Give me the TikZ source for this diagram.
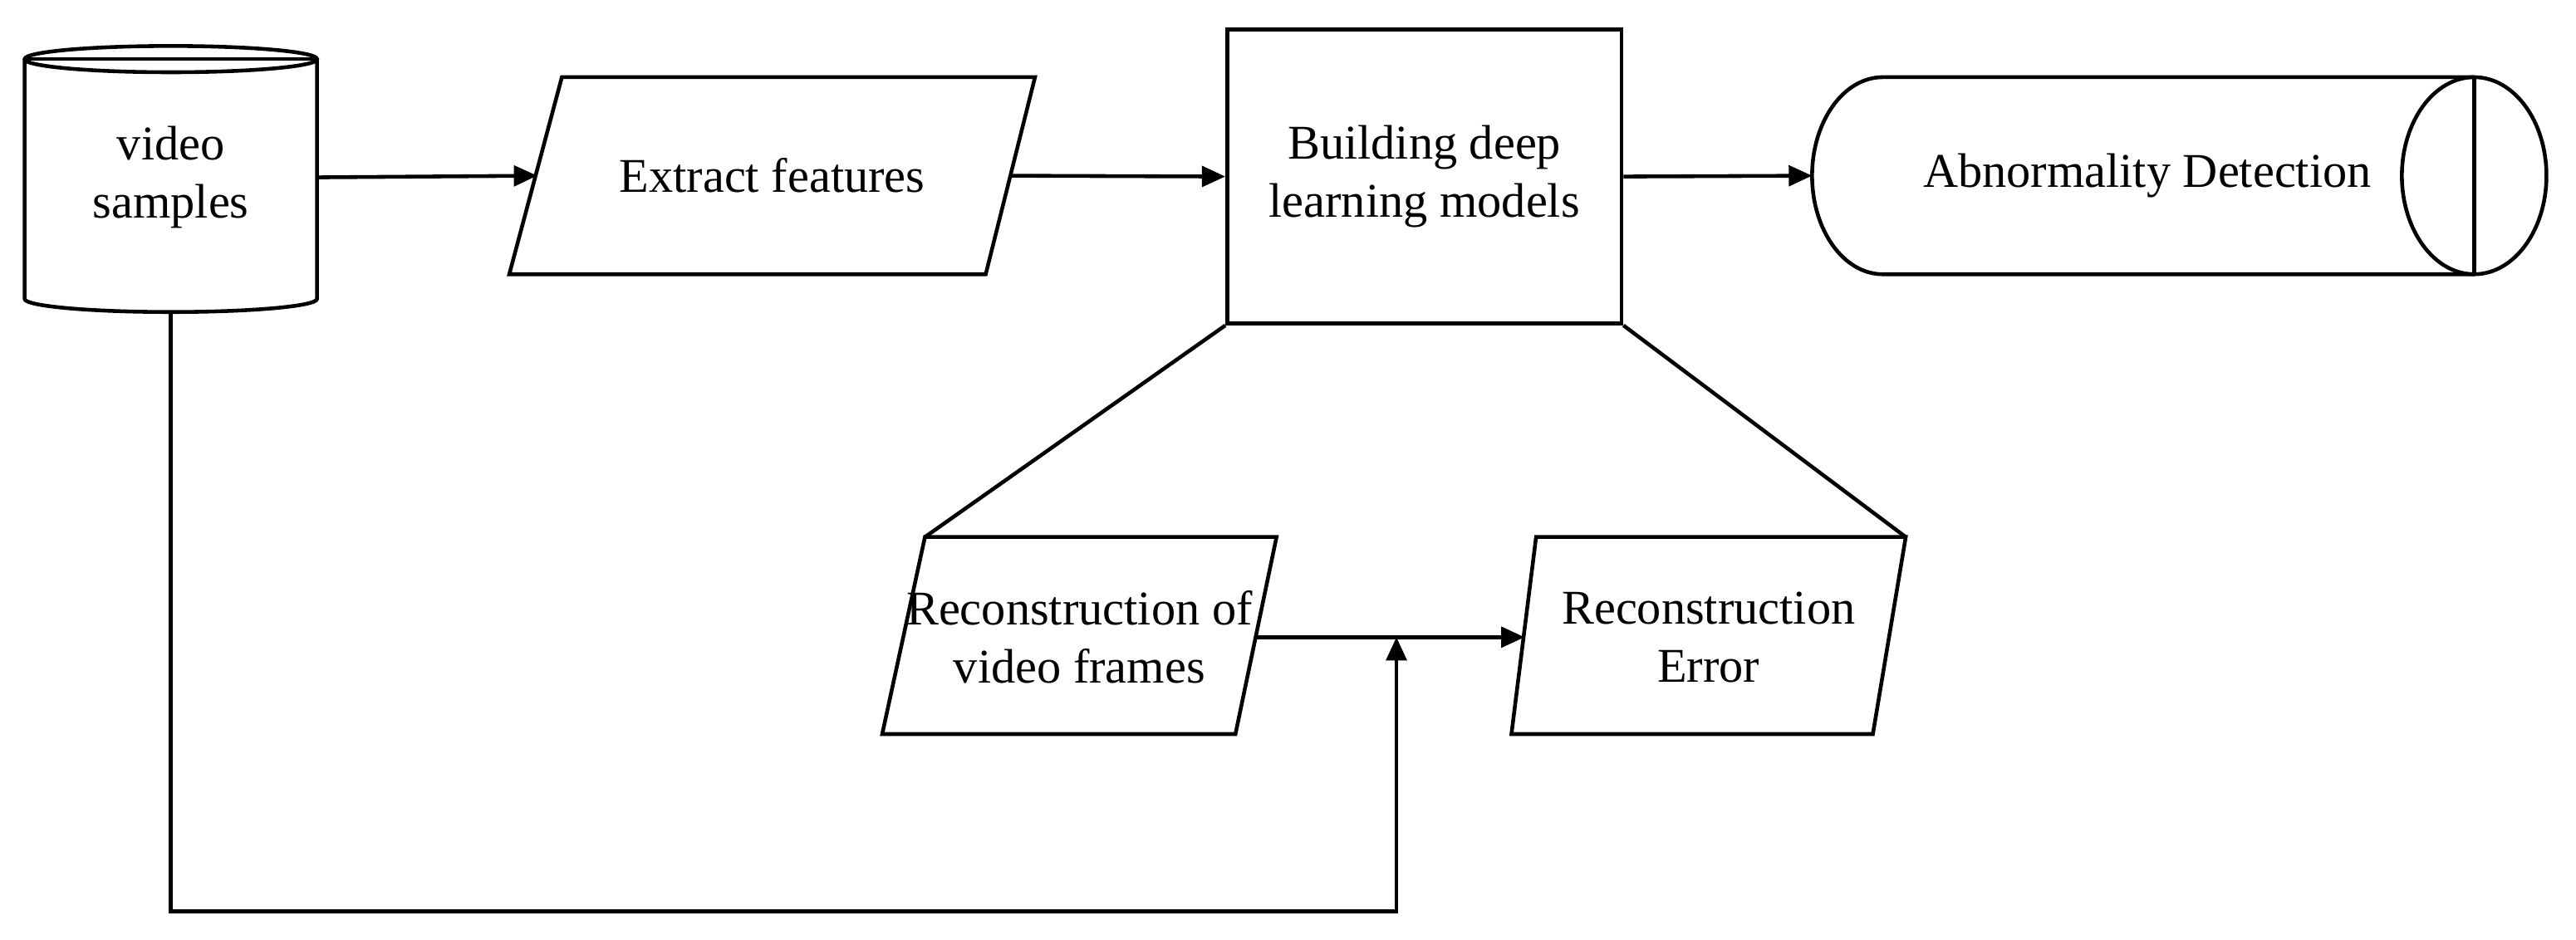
\documentclass[tikz,border=0pt]{standalone}
\usepackage{fontspec}
\setmainfont{Liberation Serif}
\usetikzlibrary{arrows.meta}
\begin{document}
\begin{tikzpicture}[x=0.01978cm,y=-0.01978cm,
  line width=1.3pt,
  lbl/.style={align=center,font=\fontsize{16.6}{20}\selectfont},
  arr/.style={-{Triangle[length=8pt,width=7pt]}}]
\useasboundingbox (0,0) rectangle (1568,572);
% cylinder: video samples
\draw (15,36) -- (15,182) arc[start angle=180,end angle=360,x radius=89,y radius=-8] -- (193,36);
\draw (104,36) ellipse[x radius=89,y radius=8];
\draw (15,36) -- (193,36);
\node[lbl] (vs) at (104,108) {video\\samples};
\coordinate (vsR) at (193,108);
\coordinate (vsB) at (104,190);
% extract features
\draw (342,47) -- (630,47) -- (600,167) -- (310,167) -- cycle;
\node[lbl] (ef) at (470,107) {Extract features};
\coordinate (efL) at (327,107);
\coordinate (efR) at (615,107);
% building models
\node[draw,lbl,minimum width=240*0.01978cm,minimum height=179*0.01978cm] (bm) at (867,107.5) {Building deep\\learning models};
% abnormality detection
\draw (1506,47) -- (1146,47) arc[start angle=90,end angle=270,x radius=43,y radius=-60] -- (1506,167);
\draw (1506,107) ellipse[x radius=44,y radius=60];
\draw (1506,47) -- (1506,167);
\node[lbl] (ad) at (1307,107) {Abnormality Detection};
\coordinate (adL) at (1103,107);
% reconstruction of video frames
\draw (563,327) -- (777,327) -- (752,447) -- (537,447) -- cycle;
\node[lbl] (rv) at (657,388) {Reconstruction of\\video frames};
\coordinate (rvR) at (765,388);
\coordinate (rvT) at (563,327);
% reconstruction error
\draw (935,327) -- (1160,327) -- (1140,447) -- (920,447) -- cycle;
\node[lbl] (re) at (1040,388) {Reconstruction\\Error};
\coordinate (reL) at (928,388);
\coordinate (reT) at (1160,327);
\coordinate (jn) at (850,388);
% connectors
\draw[arr] (vsR) -- (efL);
\draw[arr] (efR) -- (bm.west);
\draw[arr] (bm.east) -- (adL);
\draw (bm.south west) -- (rvT);
\draw (bm.south east) -- (reT);
\draw[arr] (rvR) -- (reL);
\draw[arr] (vsB) |- (850,555) -- (jn);
\end{tikzpicture}
\end{document}
